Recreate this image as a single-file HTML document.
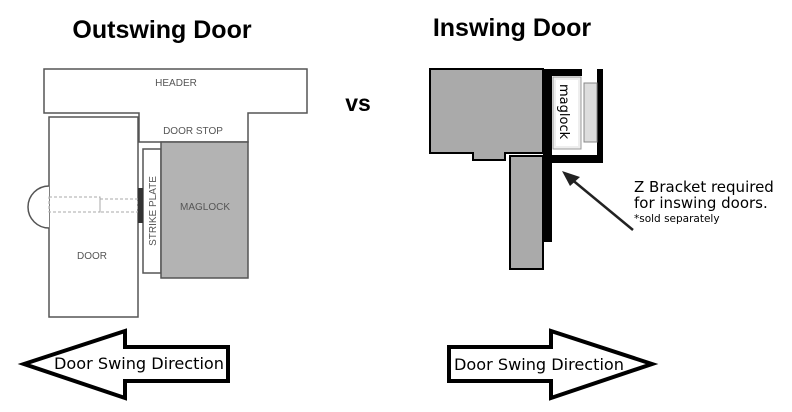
<!DOCTYPE html>
<html><head><style>
body{margin:0;background:#fff;}
svg{display:block;}
</style></head><body>
<svg width="792" height="412" viewBox="0 0 792 412" xmlns="http://www.w3.org/2000/svg" font-family="Liberation Sans, sans-serif">
<text x="162" y="38" font-size="25" font-weight="bold" text-anchor="middle">Outswing Door</text>
<text x="512" y="36" font-size="25" font-weight="bold" text-anchor="middle">Inswing Door</text>
<text x="358" y="111" font-size="23" font-weight="bold" text-anchor="middle">vs</text>
<g stroke="#555" stroke-width="1.5" fill="#fff">
<path d="M44 69 H307 V113 H248 V142 H139 V113 H44 Z"/>
<rect x="49" y="117" width="89" height="200"/>
<path d="M49 186 A21 21 0 0 0 49 228"/>
<rect x="143" y="149" width="18" height="124"/>
<rect x="161" y="142" width="87" height="136" fill="#b3b3b3"/>
</g>
<g stroke="#aaa" stroke-width="1" fill="none" stroke-dasharray="3,2">
<rect x="49" y="197" width="51" height="15"/>
<rect x="100" y="199" width="38" height="13"/>
</g>
<rect x="138" y="188" width="5" height="35" fill="#333"/>
<g fill="#555" font-size="10">
<text x="176" y="86" text-anchor="middle">HEADER</text>
<text x="193" y="134" text-anchor="middle">DOOR STOP</text>
<text x="205" y="210" text-anchor="middle">MAGLOCK</text>
<text x="92" y="259" text-anchor="middle">DOOR</text>
<text transform="translate(156,211) rotate(-90)" text-anchor="middle">STRIKE PLATE</text>
</g>
<g stroke="#000" stroke-width="2" fill="#aaa">
<path d="M430 69 H543 V153 H505 V160 H473 V153 H430 Z"/>
<rect x="510" y="156" width="33" height="113"/>
</g>
<g fill="#000">
<rect x="543" y="69" width="9" height="173"/>
<rect x="543" y="69" width="39" height="7"/>
<rect x="597" y="69" width="6" height="94"/>
<rect x="543" y="155" width="60" height="8"/>
</g>
<rect x="553" y="77" width="28" height="72" fill="#eee" stroke="#999" stroke-width="1"/>
<rect x="556" y="80" width="22" height="66" fill="#fff"/>
<rect x="584" y="83" width="13" height="59" fill="#ddd" stroke="#888" stroke-width="1"/>
<text transform="translate(560,84) rotate(90)" font-size="13" font-family="DejaVu Sans, sans-serif">maglock</text>
<line x1="633" y1="230" x2="570" y2="178" stroke="#222" stroke-width="2.5"/>
<polygon points="562,171 580,177 570,186" fill="#222"/>
<g font-family="DejaVu Sans, sans-serif" fill="#000">
<text x="634" y="192" font-size="15">Z Bracket required</text>
<text x="634" y="208" font-size="15">for inswing doors.</text>
<text x="634" y="222" font-size="10.5">*sold separately</text>
</g>
<g stroke="#000" stroke-width="4" fill="#fff" stroke-linejoin="miter">
<polygon points="24,364 125,331 125,347 228,347 228,381 125,381 125,398"/>
<polygon points="652,364 551,331 551,347 449,347 449,381 551,381 551,398"/>
</g>
<g font-size="16" font-family="DejaVu Sans Condensed, DejaVu Sans, sans-serif">
<text x="54" y="369" textLength="170" lengthAdjust="spacingAndGlyphs">Door Swing Direction</text>
<text x="454" y="370" textLength="170" lengthAdjust="spacingAndGlyphs">Door Swing Direction</text>
</g>
</svg>
</body></html>
